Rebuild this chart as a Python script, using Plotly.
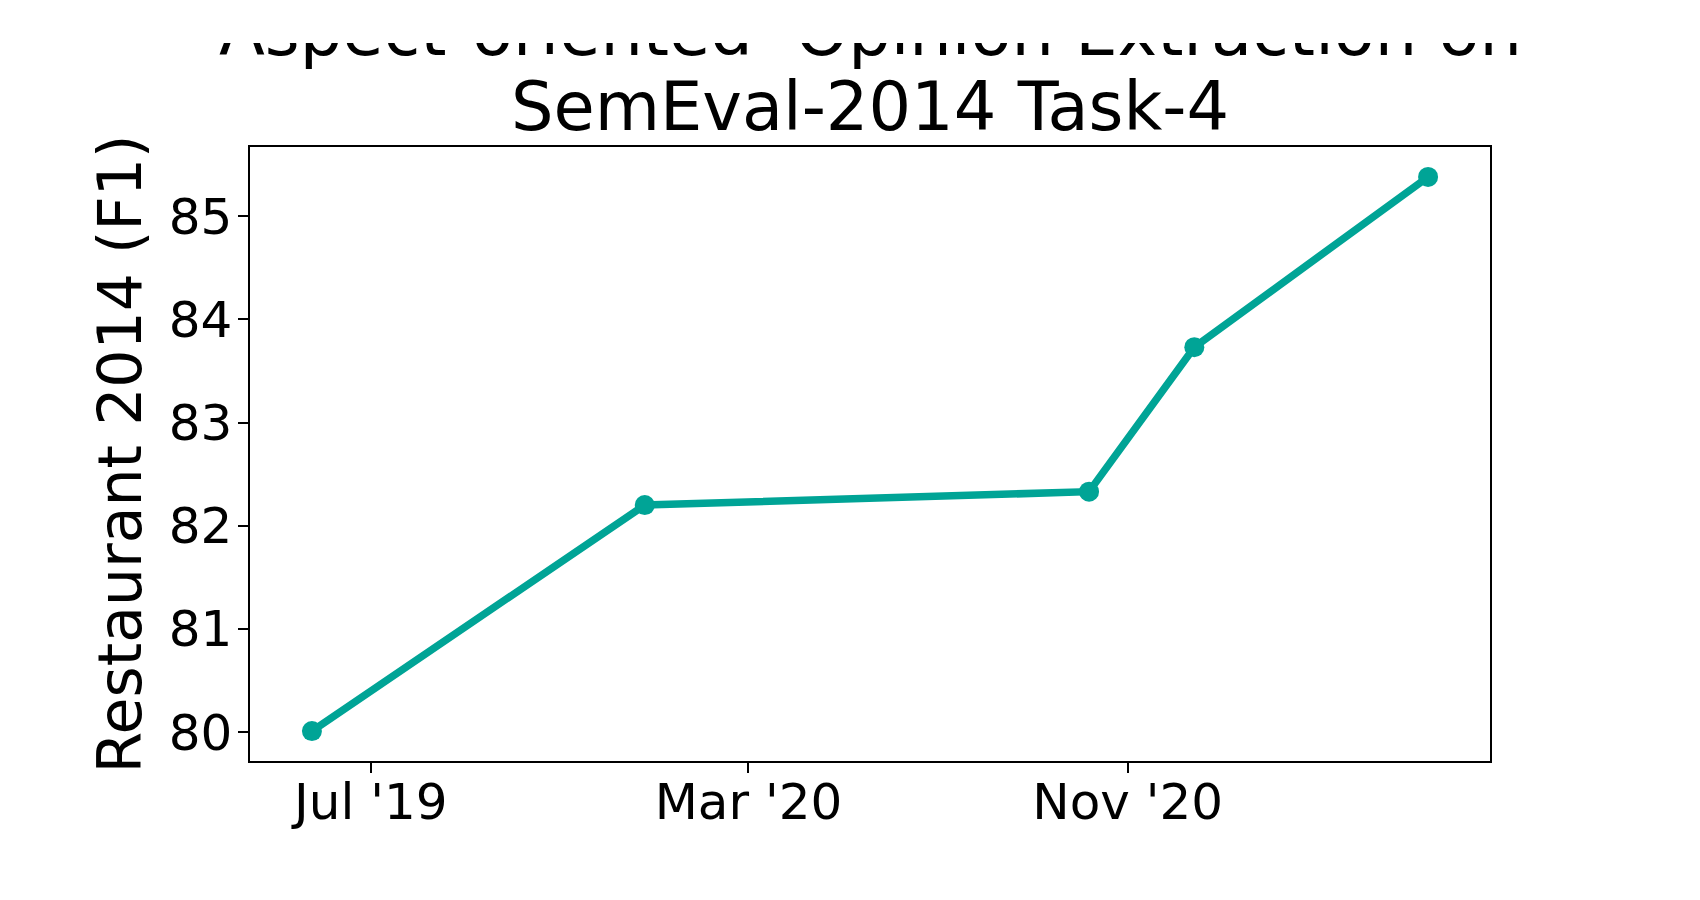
import plotly.graph_objects as go

dates = ["2019-05-24", "2019-12-25", "2020-10-07", "2020-12-14", "2021-05-14"]
f1_scores = [80.01, 82.20, 82.33, 83.73, 85.38]

x_tick_vals = ["2019-07-01", "2020-03-01", "2020-11-01"]
x_tick_text = ["Jul '19", "Mar '20", "Nov '20"]
y_tick_vals = [80, 81, 82, 83, 84, 85]

title_line1 = "Aspect-oriented  Opinion Extraction on"
title_line2 = "SemEval-2014 Task-4"
y_title = "Restaurant 2014 (F1)"

FONT = "DejaVu Sans"
COLOR = "rgb(0,164,150)"

W, H = 1684, 884
L, T = 242, 139
PW, PH = 1240, 614

fig = go.Figure()
fig.add_trace(go.Scatter(
    x=dates, y=f1_scores, mode="lines+markers",
    line=dict(color=COLOR, width=7.5),
    marker=dict(color=COLOR, size=20),
    showlegend=False,
))

axis_common = dict(
    showline=True, linecolor="black", linewidth=1.5, mirror=True,
    ticks="outside", ticklen=10, tickwidth=1.5, tickcolor="black",
    showgrid=False, zeroline=False,
    tickfont=dict(family=FONT, size=50, color="black"),
)

fig.update_xaxes(
    type="date", range=["2019-04-14", "2021-06-23"],
    tickmode="array", tickvals=x_tick_vals, ticktext=x_tick_text,
    ticklabelstandoff=-14,
    **axis_common,
)
fig.update_yaxes(
    range=[79.72, 85.67], tickmode="array", tickvals=y_tick_vals,
    ticktext=[str(v) for v in y_tick_vals],
    ticklabelstandoff=-4,
    title=dict(text=y_title, font=dict(family=FONT, size=60, color="black"), standoff=8),
    **axis_common,
)

def py(fig_y):
    return 1 + (T - fig_y) / PH

fig.add_annotation(text=title_line1, xref="paper", yref="paper", x=0.5, y=py(24),
                   xanchor="center", yanchor="middle", showarrow=False,
                   font=dict(family=FONT, size=67, color="black"))
fig.add_annotation(text=title_line2, xref="paper", yref="paper", x=0.5, y=py(99),
                   xanchor="center", yanchor="middle", showarrow=False,
                   font=dict(family=FONT, size=67, color="black"))
# the reference image is blank above its top band, which trims the first title line
fig.add_annotation(text=" ", xref="paper", yref="paper", x=0.5, y=py(0),
                   xanchor="center", yanchor="top", showarrow=False,
                   width=W, height=35, bgcolor="white", borderpad=0, borderwidth=0,
                   font=dict(size=10))

fig.update_layout(
    width=W, height=H,
    margin=dict(l=L, r=W - L - PW, t=T, b=H - T - PH, autoexpand=False),
    plot_bgcolor="white", paper_bgcolor="white",
    font=dict(family=FONT, color="black"),
)

fig.write_html("out.html")
